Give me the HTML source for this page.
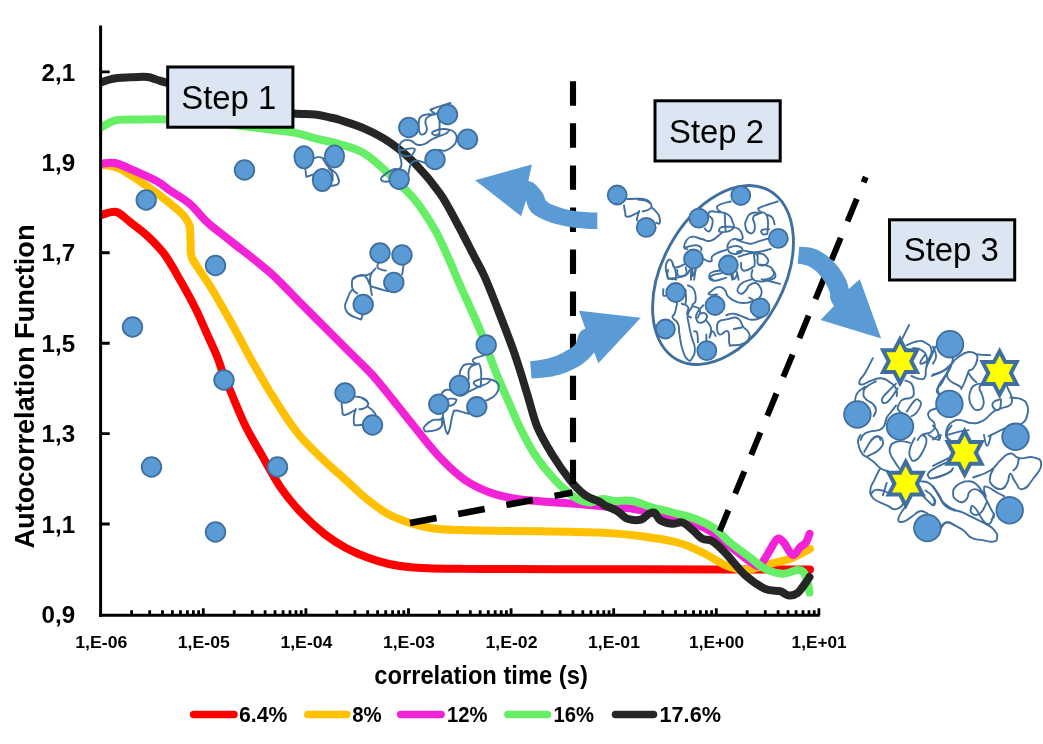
<!DOCTYPE html>
<html><head><meta charset="utf-8"><title>Autocorrelation Function</title>
<style>
html,body{margin:0;padding:0;background:#fff;overflow:hidden}
svg{display:block}
text{font-family:"Liberation Sans",sans-serif}
.b{font-weight:bold}
</style></head><body>
<svg width="1043" height="744" viewBox="0 0 1043 744">
<rect width="1043" height="744" fill="#fff"/>
<g stroke="#000" stroke-width="2.9" fill="none">
<path d="M101 71.9H109.7M101 162.3H109.7M101 252.7H109.7M101 343.2H109.7M101 433.6H109.7M101 524.0H109.7"/>
<path stroke-width="2.8" d="M131.6 615V610.2M149.7 615V610.2M162.5 615V610.2M172.4 615V610.2M180.5 615V610.2M187.4 615V610.2M193.4 615V610.2M198.6 615V610.2M203.3 615V608.2M234.2 615V610.2M252.3 615V610.2M265.1 615V610.2M275.0 615V610.2M283.1 615V610.2M290.0 615V610.2M296.0 615V610.2M301.2 615V610.2M305.9 615V608.2M336.8 615V610.2M354.9 615V610.2M367.7 615V610.2M377.6 615V610.2M385.7 615V610.2M392.6 615V610.2M398.6 615V610.2M403.8 615V610.2M408.5 615V608.2M439.4 615V610.2M457.5 615V610.2M470.3 615V610.2M480.2 615V610.2M488.3 615V610.2M495.2 615V610.2M501.2 615V610.2M506.4 615V610.2M511.1 615V608.2M542.0 615V610.2M560.1 615V610.2M572.9 615V610.2M582.8 615V610.2M590.9 615V610.2M597.8 615V610.2M603.8 615V610.2M609.0 615V610.2M613.7 615V608.2M644.6 615V610.2M662.7 615V610.2M675.5 615V610.2M685.4 615V610.2M693.5 615V610.2M700.4 615V610.2M706.4 615V610.2M711.6 615V610.2M716.3 615V608.2M747.2 615V610.2M765.3 615V610.2M778.1 615V610.2M788.0 615V610.2M796.1 615V610.2M803.0 615V610.2M809.0 615V610.2M814.2 615V610.2M818.9 615V608.2"/>
</g>
<clipPath id="pc"><rect x="101" y="20" width="760" height="600"/></clipPath>
<g fill="none" stroke-width="8" stroke-linecap="round" stroke-linejoin="round" clip-path="url(#pc)">
<path stroke="#ff0000" d="M101.0 215.0C103.5 214.5 111.4 210.8 116.2 212.0C121.1 213.2 124.8 218.0 130.0 222.0C135.2 226.0 141.7 230.5 147.5 236.0C153.3 241.5 159.6 247.7 165.0 255.0C170.4 262.3 175.0 271.2 180.0 280.0C185.0 288.8 190.4 298.3 195.0 307.5C199.6 316.7 203.8 326.7 207.5 335.0C211.2 343.3 214.8 350.7 217.5 357.5C220.2 364.3 221.7 370.6 223.8 376.0C225.8 381.4 226.5 381.8 230.0 390.0C233.5 398.2 240.0 414.7 245.0 425.0C250.0 435.3 253.9 441.4 260.0 452.0C266.1 462.6 274.3 478.4 281.5 488.8C288.7 499.2 295.8 507.1 303.0 514.6C310.2 522.1 317.3 528.4 324.5 534.0C331.7 539.6 338.8 544.1 346.0 548.0C353.2 551.9 360.3 554.9 367.5 557.6C374.7 560.3 381.8 562.4 389.0 564.0C396.2 565.6 403.3 566.6 410.5 567.3C417.7 568.0 423.8 568.1 432.0 568.4C440.2 568.6 452.0 568.7 460.0 568.8C468.0 568.9 456.7 568.9 480.0 569.0C503.3 569.1 560.0 569.1 600.0 569.2C640.0 569.3 685.0 569.4 720.0 569.4C755.0 569.4 795.0 569.5 810.0 569.5"/>
<path stroke="#ffc000" d="M101.0 165.0C104.2 165.6 111.4 164.6 120.0 168.8C128.6 172.9 143.3 183.5 152.5 190.0C161.7 196.5 169.8 203.2 175.0 207.5C180.2 211.8 181.8 213.4 184.0 216.0C186.2 218.6 187.5 221.0 188.5 223.0C189.5 225.0 189.7 225.2 190.0 228.0C190.3 230.8 190.3 235.7 190.5 240.0C190.7 244.3 190.6 250.7 191.0 254.0C191.4 257.3 191.5 257.2 193.0 260.0C194.5 262.8 196.8 266.0 200.0 271.0C203.2 276.0 207.1 281.0 212.5 290.0C217.9 299.0 226.2 313.8 232.5 325.0C238.8 336.2 245.4 349.2 250.0 357.5C254.6 365.8 256.7 369.2 260.0 375.0C263.3 380.8 265.3 384.5 270.0 392.0C274.7 399.5 282.5 412.1 288.0 420.0C293.5 427.9 296.9 432.6 303.0 439.4C309.1 446.2 317.3 454.1 324.5 460.9C331.7 467.7 338.8 473.8 346.0 480.2C353.2 486.6 360.3 493.9 367.5 499.6C374.7 505.3 381.8 510.7 389.0 514.6C396.2 518.5 403.3 520.9 410.5 523.2C417.7 525.5 423.8 527.1 432.0 528.2C440.2 529.4 450.3 529.7 460.0 530.1C469.7 530.5 476.7 530.6 490.0 530.8C503.3 530.9 521.7 531.0 540.0 531.2C558.3 531.5 583.3 531.7 600.0 532.5C616.7 533.3 627.1 534.3 640.0 536.0C652.9 537.7 667.1 539.8 677.5 542.5C687.9 545.2 694.6 548.8 702.5 552.5C710.4 556.2 717.9 562.1 725.0 565.0C732.1 567.9 737.5 570.2 745.0 570.0C752.5 569.8 762.5 565.6 770.0 563.8C777.5 561.9 783.3 561.2 790.0 558.8C796.7 556.2 806.7 550.4 810.0 548.8"/>
<path stroke="#f223d6" d="M101.0 163.8C103.3 163.6 109.3 161.8 115.0 163.0C120.7 164.2 127.9 167.9 135.0 171.0C142.1 174.1 151.7 178.2 157.5 181.5C163.3 184.8 164.6 186.8 170.0 190.5C175.4 194.2 183.8 198.7 190.0 204.0C196.2 209.3 200.4 216.1 207.5 222.5C214.6 228.9 222.1 234.2 232.5 242.5C242.9 250.8 258.8 262.5 270.0 272.5C281.2 282.5 290.0 292.5 300.0 302.5C310.0 312.5 321.7 324.2 330.0 332.5C338.3 340.8 342.9 345.4 350.0 352.5C357.1 359.6 365.0 366.7 372.5 375.0C380.0 383.3 387.9 393.8 395.0 402.5C402.1 411.2 407.5 418.3 415.0 427.5C422.5 436.7 431.7 448.8 440.0 457.5C448.3 466.2 456.7 474.2 465.0 480.0C473.3 485.8 481.7 489.4 490.0 492.5C498.3 495.6 506.7 497.3 515.0 498.8C523.3 500.2 531.7 500.5 540.0 501.2C548.3 502.0 555.0 502.2 565.0 503.0C575.0 503.8 591.7 505.2 600.0 506.0C608.3 506.8 608.3 506.8 615.0 507.5C621.7 508.2 625.8 506.9 640.0 510.0C654.2 513.1 685.8 520.6 700.0 526.0C714.2 531.4 717.5 537.2 725.0 542.5C732.5 547.8 739.5 554.1 745.0 558.0C750.5 561.9 754.8 565.7 758.0 566.0C761.2 566.3 762.0 562.7 764.0 560.0C766.0 557.3 767.8 553.5 770.0 550.0C772.2 546.5 775.2 540.0 777.5 538.8C779.8 537.5 781.2 539.8 783.8 542.5C786.2 545.2 789.8 554.2 792.5 555.0C795.2 555.8 797.8 549.6 800.0 547.5C802.2 545.4 804.4 544.8 806.0 542.5C807.6 540.2 808.9 535.2 809.5 533.8"/>
<path stroke="#66ee66" d="M101.0 127.5C102.2 126.8 105.2 124.8 108.0 123.5C110.8 122.2 112.2 120.7 117.5 120.0C122.8 119.3 131.9 119.6 140.0 119.5C148.1 119.4 156.0 119.2 166.0 119.5C176.0 119.8 187.7 120.2 200.0 121.3C212.3 122.3 228.3 124.4 240.0 125.8C251.7 127.2 261.0 128.5 270.0 129.6C279.0 130.7 285.7 130.9 294.0 132.6C302.3 134.2 312.3 137.6 320.0 139.5C327.7 141.4 332.5 141.8 340.0 144.2C347.5 146.6 356.7 148.6 365.0 153.8C373.3 158.9 381.7 167.3 390.0 175.0C398.3 182.7 407.5 190.8 415.0 200.0C422.5 209.2 429.6 220.7 435.0 230.0C440.4 239.3 443.3 246.8 447.5 256.0C451.7 265.2 454.6 272.7 460.0 285.0C465.4 297.3 474.2 315.8 480.0 330.0C485.8 344.2 490.0 357.5 495.0 370.0C500.0 382.5 505.8 395.4 510.0 405.0C514.2 414.6 515.8 419.2 520.0 427.5C524.2 435.8 529.2 446.2 535.0 455.0C540.8 463.8 548.3 472.9 555.0 480.0C561.7 487.1 569.2 493.8 575.0 497.5C580.8 501.2 585.4 502.2 590.0 502.5C594.6 502.8 598.3 499.2 602.5 499.0C606.7 498.8 610.0 500.7 615.0 501.0C620.0 501.3 626.2 499.9 632.5 501.0C638.8 502.1 645.8 505.6 652.5 507.5C659.2 509.4 665.4 510.6 672.5 512.5C679.6 514.4 687.9 516.0 695.0 518.8C702.1 521.5 709.2 524.8 715.0 528.8C720.8 532.7 724.2 537.7 730.0 542.5C735.8 547.3 744.2 553.1 750.0 557.5C755.8 561.9 759.6 566.0 765.0 568.8C770.4 571.5 777.1 573.5 782.5 573.8C787.9 574.0 794.0 570.2 797.5 570.0C801.0 569.8 802.1 570.4 803.8 572.5C805.4 574.6 806.5 579.2 807.5 582.5C808.5 585.8 809.2 590.8 809.5 592.5"/>
<path stroke="#262626" d="M101.0 82.5C102.2 82.1 105.2 80.8 108.0 80.0C110.8 79.2 113.8 78.5 117.5 78.0C121.2 77.5 125.0 77.5 130.0 77.3C135.0 77.1 143.2 76.6 147.5 77.0C151.8 77.4 152.9 78.6 156.0 79.5C159.1 80.4 160.3 81.1 166.0 82.5C171.7 83.9 181.0 85.8 190.0 88.0C199.0 90.2 210.0 93.3 220.0 96.0C230.0 98.7 240.8 101.7 250.0 104.0C259.2 106.3 267.7 108.4 275.0 110.0C282.3 111.6 287.3 112.8 294.0 113.5C300.7 114.2 309.0 113.8 315.0 114.5C321.0 115.2 325.8 116.6 330.0 117.5C334.2 118.4 334.2 118.1 340.0 120.0C345.8 121.9 356.7 125.0 365.0 128.8C373.3 132.5 381.7 136.7 390.0 142.5C398.3 148.3 406.7 155.0 415.0 163.5C423.3 172.0 432.9 183.4 440.0 193.5C447.1 203.6 451.9 213.7 457.5 224.0C463.1 234.3 469.2 246.6 473.8 255.5C478.3 264.4 480.6 267.6 485.0 277.5C489.4 287.4 495.0 302.1 500.0 315.0C505.0 327.9 510.4 341.7 515.0 355.0C519.6 368.3 523.8 382.9 527.5 395.0C531.2 407.1 533.3 417.5 537.5 427.5C541.7 437.5 547.1 446.2 552.5 455.0C557.9 463.8 564.6 473.3 570.0 480.0C575.4 486.7 580.0 491.3 585.0 495.0C590.0 498.7 596.7 500.2 600.0 502.0C603.3 503.8 602.1 504.0 605.0 505.5C607.9 507.0 613.8 509.0 617.5 511.2C621.2 513.5 623.5 517.4 627.5 518.8C631.5 520.1 637.7 520.3 641.2 519.5C644.8 518.7 646.5 514.8 648.8 513.8C651.0 512.7 653.1 512.0 655.0 513.0C656.9 514.0 657.1 518.2 660.0 520.0C662.9 521.8 668.8 523.3 672.5 523.8C676.2 524.2 679.2 521.5 682.5 522.5C685.8 523.5 689.2 527.3 692.5 530.0C695.8 532.7 699.2 536.9 702.5 538.8C705.8 540.6 708.8 539.0 712.5 541.2C716.2 543.5 719.6 546.9 725.0 552.5C730.4 558.1 738.3 569.0 745.0 575.0C751.7 581.0 759.2 586.0 765.0 588.8C770.8 591.5 776.0 590.1 780.0 591.2C784.0 592.4 785.8 595.2 788.8 595.5C791.7 595.8 794.8 595.0 797.5 593.0C800.2 591.0 803.0 586.4 805.0 583.8C807.0 581.1 808.8 578.1 809.5 577.0"/>
</g>
<g stroke="#000" stroke-width="3" fill="none">
<path d="M100.6 25.5V616.8"/><path d="M99.1 615.3H819.8"/>
</g>
<g stroke="#000" fill="none">
<path d="M573 81.3V484" stroke-width="6.1" stroke-dasharray="24.4 17.66"/>
<path d="M410 523L572.5 492.5" stroke-width="6.5" stroke-dasharray="27 22"/>
<path d="M865.8 177L719.8 531" stroke-width="6" stroke-dasharray="24.2 17.9" stroke-dashoffset="18.4"/>
</g>
<g fill="none" stroke="#3f6f9f" stroke-width="1.9" stroke-linecap="round" stroke-linejoin="round">
<path d="M450.5 103.0C446.0 104.5 438.7 106.4 433.5 108.5C428.4 110.5 430.9 109.1 431.3 110.7C431.7 112.3 436.2 113.4 435.0 114.4C433.8 115.4 430.8 113.6 426.9 114.4C423.0 115.2 422.4 114.8 420.2 117.3C418.1 119.9 419.0 120.0 418.8 124.0C418.6 127.9 418.3 129.4 419.5 132.1C420.7 134.9 421.2 134.9 423.2 134.3C425.2 133.7 426.3 133.2 426.9 129.9C427.5 126.5 425.0 125.3 425.4 121.8C425.8 118.2 425.8 118.6 428.4 116.6C430.9 114.6 432.3 114.8 435.0 114.4C437.8 114.0 437.5 110.6 438.7 115.1C439.9 119.7 439.7 126.3 439.5 131.4C439.3 136.5 439.4 133.3 438.0 134.3C436.6 135.3 435.5 135.9 434.3 135.1C433.1 134.3 430.2 133.0 433.5 131.4C436.9 129.8 443.3 128.8 446.8 129.2C450.4 129.6 449.6 130.7 446.8 132.9C444.1 135.0 440.8 135.3 436.5 137.3C432.2 139.3 433.7 138.5 430.6 140.2C427.4 142.0 428.2 142.8 424.7 143.9C421.1 145.1 420.8 145.5 417.3 144.7C413.7 143.9 414.7 142.2 411.4 141.0C408.0 139.8 407.9 139.3 404.7 140.2C401.6 141.2 401.1 141.9 399.6 144.7C398.0 147.4 398.2 147.8 398.8 150.6C399.4 153.3 398.8 153.6 401.8 155.0C404.7 156.4 406.5 156.7 409.9 155.8C413.2 154.8 413.5 153.3 414.3 151.3C415.1 149.4 415.8 148.8 412.9 148.4C409.9 148.0 406.8 148.9 403.2 149.8C399.7 150.8 400.1 147.5 399.6 152.1C399.0 156.6 403.0 162.1 401.0 166.8C399.1 171.6 396.9 167.4 392.2 169.8C387.4 172.2 386.3 173.1 383.3 175.7C380.3 178.3 380.7 177.8 381.1 179.4C381.5 181.0 382.2 181.2 384.8 181.6C387.3 182.0 389.1 181.1 390.7 180.9M407.7 178.7C408.3 175.5 408.5 171.4 409.9 166.8C411.3 162.3 410.5 163.2 412.9 161.7C415.2 160.1 415.0 160.3 418.8 160.9C422.5 161.5 424.7 163.1 426.9 163.9M446.8 129.2C448.8 129.9 451.7 129.2 454.2 132.1C456.8 135.1 457.0 136.3 456.4 140.2C455.9 144.2 455.0 144.1 452.0 146.9C449.1 149.7 448.7 149.8 445.4 150.6C442.0 151.4 441.0 150.0 439.5 149.8"/>
<path d="M377.9 263.2C377.9 264.4 376.7 265.9 377.9 267.7C379.0 269.5 380.1 269.1 382.3 269.9C384.5 270.7 385.0 270.4 386.0 270.6M375.6 268.4C373.9 270.0 373.1 272.4 369.0 274.3C364.9 276.3 364.1 275.0 360.1 275.8C356.2 276.6 356.4 275.7 354.2 277.3C352.0 278.9 352.4 278.6 352.0 281.7C351.6 284.9 351.4 286.0 352.7 289.1C354.1 292.3 356.0 292.4 357.2 293.5M352.7 289.1C351.6 291.1 350.1 290.8 348.3 296.5C346.5 302.2 343.3 304.6 346.1 310.5C348.8 316.4 354.5 316.7 358.6 318.7C362.8 320.6 360.6 318.9 361.6 317.9C362.6 316.9 362.1 315.8 362.3 315.0M374.9 269.2C373.7 270.9 371.6 271.3 370.5 275.8C369.3 280.3 370.1 281.0 370.5 286.2C370.9 291.3 371.5 292.7 371.9 295.0M370.5 286.2C374.4 287.3 380.1 289.2 385.2 290.6C390.4 292.0 388.5 291.1 389.7 291.3M403.7 264.7C403.3 267.3 402.6 271.8 402.2 274.3M353.5 278.8C355.2 277.8 356.8 275.5 360.1 275.1C363.5 274.7 363.5 274.7 366.0 277.3C368.6 279.8 368.7 282.7 369.7 284.7"/>
<path d="M483.9 355.3C481.5 356.1 478.0 356.7 475.0 358.2C472.1 359.8 472.6 359.6 472.8 361.2C473.0 362.8 477.3 363.4 475.8 364.2C474.2 364.9 470.6 363.2 466.9 364.2C463.2 365.1 463.7 364.9 461.7 367.9C459.8 370.8 459.7 371.5 459.5 375.2C459.3 379.0 459.6 379.5 461.0 381.9C462.4 384.3 462.7 384.7 464.7 384.1C466.6 383.5 467.2 383.6 468.4 379.7C469.6 375.7 467.3 373.3 469.1 369.3C470.9 365.4 472.1 365.7 475.0 364.9C478.0 364.1 478.6 361.3 480.2 366.4C481.8 371.5 481.3 378.8 480.9 384.1C480.5 389.4 480.1 385.9 478.7 386.3C477.3 386.7 476.7 387.0 475.8 385.6C474.8 384.2 471.9 382.9 475.0 381.2C478.2 379.4 484.0 378.5 487.6 378.9C491.1 379.3 490.9 380.5 488.3 382.6C485.8 384.8 483.1 384.7 478.0 387.1C472.9 389.4 473.1 389.3 469.1 391.5C465.2 393.7 466.4 394.2 463.2 395.2C460.0 396.2 460.4 396.4 457.3 395.2C454.1 394.0 454.5 392.1 451.4 390.8C448.2 389.4 448.2 389.0 445.5 390.0C442.7 391.0 442.4 391.7 441.0 394.5C439.7 397.2 439.7 397.6 440.3 400.4C440.9 403.1 440.3 403.4 443.2 404.8C446.2 406.2 448.0 406.3 451.4 405.5C454.7 404.7 455.0 403.6 455.8 401.8C456.6 400.1 457.3 399.5 454.3 398.9C451.4 398.3 448.3 398.8 444.7 399.6C441.2 400.4 441.6 397.1 441.0 401.8C440.4 406.6 444.9 412.4 442.5 417.4C440.1 422.3 436.9 418.0 432.2 420.3C427.4 422.7 426.9 423.9 424.8 426.2C422.6 428.6 423.3 427.8 424.0 429.2C424.8 430.6 423.4 431.8 427.7 431.4C432.1 431.0 436.6 430.9 440.3 427.7C444.0 424.6 441.4 421.7 441.8 419.6M443.2 417.4C444.0 421.1 444.6 427.9 446.2 431.4C447.8 434.9 447.4 435.4 449.2 430.7C450.9 425.9 451.1 419.0 452.9 413.7C454.6 408.3 453.8 411.3 455.8 410.7C457.8 410.1 456.9 410.7 460.2 411.4C463.6 412.2 466.2 413.1 468.4 413.7M487.6 378.9C489.6 379.5 492.0 379.0 495.0 381.2C497.9 383.3 498.5 383.5 498.7 387.1C498.9 390.6 498.1 391.3 495.7 394.5C493.3 397.6 492.4 397.3 489.8 398.9C487.2 400.5 487.1 400.0 486.1 400.4"/>
<path d="M353.5 396.7C355.1 396.8 356.3 396.3 359.4 397.0C362.6 397.8 363.0 397.8 365.3 399.4C367.6 401.0 367.6 401.3 368.0 403.2C368.4 405.0 368.1 405.0 366.9 406.4C365.8 407.8 365.7 407.8 363.7 408.5C361.7 409.3 360.6 409.1 359.4 409.3M361.6 397.8C362.8 398.7 364.5 399.4 366.4 401.0C368.3 402.6 368.0 403.0 368.5 403.7M367.5 406.4C368.8 407.4 370.2 408.0 372.3 410.2C374.5 412.3 374.5 412.5 375.5 414.5C376.5 416.5 375.9 416.8 376.1 417.7M341.7 403.2C341.8 404.7 341.5 405.9 342.2 409.1C342.9 412.2 341.2 414.6 344.4 415.0C347.5 415.4 351.0 412.1 354.0 410.7C357.0 409.3 355.6 408.3 355.6 409.6C355.6 410.9 354.5 411.8 354.0 415.5C353.6 419.3 353.5 421.0 354.0 423.6C354.6 426.2 354.0 424.9 356.2 425.2C358.3 425.5 360.5 424.8 362.1 424.7"/>
<path d="M313.9 158.2C315.2 157.9 316.0 157.0 318.7 157.1C321.4 157.2 322.7 158.1 324.1 158.5M305.3 168.7C305.6 170.6 305.8 173.6 306.3 175.7C306.9 177.8 305.7 176.7 307.4 176.5C309.1 176.2 311.4 175.1 312.8 174.6M323.0 159.0C324.2 160.8 324.4 162.2 327.3 165.5C330.2 168.8 331.2 168.8 333.8 171.4C336.3 174.0 335.7 172.0 337.0 175.2C338.3 178.3 340.0 180.4 338.6 183.2C337.2 186.1 333.5 185.2 331.6 185.9M328.9 168.7C329.8 169.9 331.1 169.9 332.2 173.0C333.2 176.2 332.5 178.5 332.7 180.5"/>
<path d="M627.3 199.0C629.3 199.0 630.5 198.8 634.8 198.8C639.1 198.8 639.7 198.4 643.4 199.0C647.1 199.7 646.6 199.5 648.8 201.2C650.9 202.9 651.3 203.3 651.5 205.5C651.6 207.6 651.6 207.7 649.3 209.2C647.0 210.8 644.6 210.8 642.8 211.4M638.0 199.6C640.0 199.9 642.1 199.5 645.5 200.6C649.0 201.8 649.5 203.0 650.9 203.9M652.0 207.6C653.3 208.9 654.8 209.9 656.8 212.5C658.8 215.1 658.8 214.4 659.5 217.3C660.2 220.2 660.4 221.8 659.5 223.2C658.7 224.7 657.2 222.8 656.3 222.7M624.0 205.5C624.3 207.2 624.2 208.9 625.1 211.9C626.0 214.9 624.1 216.5 627.3 216.8C630.4 217.1 633.8 214.4 636.9 213.0C640.1 211.6 638.9 210.5 639.1 211.4C639.2 212.3 638.0 213.8 637.5 216.2C636.9 218.7 637.1 219.4 636.9 220.5"/>
<path d="M730.9 201.5C728.0 202.3 723.8 202.7 720.2 204.5C716.5 206.4 717.1 206.3 717.1 208.4C717.1 210.4 721.8 211.4 720.2 212.2C718.5 213.0 714.0 210.6 711.0 211.4C707.9 212.3 708.2 213.0 708.7 215.3C709.1 217.5 711.9 216.2 712.5 219.9C713.1 223.6 712.2 226.0 711.0 229.1C709.7 232.1 709.5 231.6 707.9 231.4C706.2 231.2 705.6 229.1 704.8 228.3M720.2 212.2C722.2 212.8 724.6 212.1 727.8 214.5C731.1 217.0 731.2 217.5 732.4 221.4C733.7 225.3 735.3 226.2 732.4 229.1C729.6 231.9 725.2 232.1 721.7 232.1C718.2 232.1 719.0 230.5 719.4 229.1C719.8 227.6 720.2 227.4 723.2 226.8C726.3 226.2 728.8 226.8 730.9 226.8M724.8 214.5C725.0 218.8 725.3 226.3 725.5 230.6M730.9 226.8C732.9 227.4 735.5 226.8 738.6 229.1C741.6 231.3 741.8 232.4 742.4 235.2C743.0 238.1 743.1 238.8 740.9 239.8C738.6 240.8 737.2 238.2 734.0 239.0C730.7 239.9 730.2 240.2 728.6 242.9C727.0 245.5 726.8 246.2 727.8 249.0C728.8 251.9 729.2 252.6 732.4 253.6C735.7 254.6 737.4 254.1 740.1 252.9C742.8 251.6 743.2 250.9 742.4 249.0C741.6 247.2 740.5 246.4 737.0 246.0C733.5 245.5 731.4 247.1 729.4 247.5M721.7 232.9C718.8 235.0 716.3 238.9 711.0 240.6C705.6 242.2 706.7 240.1 701.7 239.0C696.8 238.0 696.6 236.3 692.5 236.7C688.5 237.2 688.7 237.7 686.4 240.6C684.2 243.4 683.9 245.2 684.1 247.5C684.3 249.7 686.4 248.6 687.2 249.0M685.6 247.5C688.3 246.9 691.5 245.2 695.6 245.2C699.7 245.2 699.6 246.1 701.0 247.5C702.4 248.9 701.0 249.7 701.0 250.6M777.7 201.5C773.4 202.9 766.7 204.6 761.6 206.8C756.5 209.1 758.5 208.3 758.5 209.9C758.5 211.5 763.2 212.2 761.6 213.0C759.9 213.8 756.2 211.5 752.4 213.0C748.5 214.4 748.8 214.7 747.0 218.3C745.2 222.0 744.8 222.9 745.5 226.8C746.1 230.7 747.0 231.7 749.3 232.9C751.5 234.1 752.5 233.6 753.9 231.4C755.3 229.1 754.9 228.0 754.7 224.5C754.5 221.0 752.5 221.0 753.1 218.3C753.7 215.7 753.5 215.5 757.0 214.5C760.4 213.5 763.3 210.2 766.2 214.5C769.0 218.8 768.1 225.3 767.7 230.6C767.3 235.9 766.3 233.8 764.6 234.4C763.0 235.1 762.2 234.1 761.6 232.9C761.0 231.7 760.3 230.9 762.3 229.8C764.4 228.8 767.4 229.3 769.2 229.1M766.2 214.5C767.8 215.3 770.1 214.9 772.3 217.6C774.6 220.2 774.0 222.6 774.6 224.5M769.2 238.3C766.4 239.1 763.4 239.9 758.5 241.3C753.6 242.8 754.9 243.4 750.8 243.7C746.7 243.9 746.8 243.1 743.2 242.1C739.5 241.1 738.7 240.4 737.0 239.8M770.8 249.0C766.7 249.8 762.8 251.7 755.4 252.1C748.1 252.5 748.1 250.6 743.2 250.6C738.3 250.6 738.7 251.7 737.0 252.1M703.3 259.0C705.3 259.6 708.3 262.3 711.0 261.3C713.6 260.3 709.2 258.2 713.3 255.2C717.3 252.1 722.8 251.2 726.3 249.8M738.6 256.7C743.1 255.9 750.1 251.6 755.4 253.6C760.7 255.7 755.2 261.9 758.5 264.4C761.8 266.8 766.1 265.3 767.7 262.8C769.3 260.4 767.3 257.6 764.6 255.2C762.0 252.7 759.6 254.0 757.7 253.6M740.9 262.8C741.5 264.9 740.1 269.3 743.2 270.5C746.2 271.7 749.3 269.3 752.4 267.4C755.4 265.6 754.3 266.9 754.7 263.6C755.1 260.3 754.1 257.4 753.9 255.2M758.5 264.4C761.0 264.8 763.8 264.3 767.7 265.9C771.6 267.5 771.8 267.6 773.1 270.5C774.3 273.4 774.6 274.2 772.3 276.6C770.1 279.1 766.7 278.9 764.6 279.7M684.1 264.4C681.7 265.2 678.2 268.2 674.9 267.4C671.6 266.6 673.7 263.1 671.8 261.3C670.0 259.4 669.6 258.9 668.0 260.5C666.4 262.2 665.7 262.7 665.7 267.4C665.7 272.1 667.4 275.3 668.0 278.2M671.8 261.3C672.9 264.2 674.7 267.1 675.7 272.0C676.7 276.9 675.7 277.6 675.7 279.7M685.6 267.4C685.8 269.1 687.4 271.1 686.4 273.6C685.4 276.0 686.7 275.2 681.8 276.6C676.9 278.1 671.7 278.3 668.0 278.9M691.0 269.7C691.0 272.4 691.0 277.0 691.0 279.7M695.6 269.7C695.2 272.4 694.5 277.0 694.1 279.7M720.2 270.5C718.1 270.9 715.3 270.6 712.5 272.0C709.6 273.5 709.4 273.8 709.4 275.9C709.4 277.9 711.7 278.7 712.5 279.7M730.9 273.6C731.3 275.2 732.0 278.1 732.4 279.7M737.0 272.0C737.4 274.1 738.1 277.6 738.6 279.7"/>
<path d="M668.0 270.0C668.0 272.0 666.0 275.2 668.0 277.7C670.1 280.1 673.6 278.8 675.7 279.2M677.2 270.0C677.6 271.6 676.3 274.9 678.7 276.1C681.2 277.4 683.5 276.2 686.4 274.6C689.3 273.0 688.7 271.2 689.5 270.0M692.5 270.0C692.1 272.0 691.4 275.6 691.0 277.7M695.6 270.0C694.8 271.6 693.4 274.5 692.5 276.1M721.7 273.1C719.2 273.7 715.8 273.9 712.5 275.4C709.2 276.8 708.6 277.0 709.4 278.4C710.2 279.9 711.1 280.9 715.6 280.7C720.1 280.5 723.4 278.5 726.3 277.7M732.4 273.1C732.8 274.7 732.7 278.8 734.0 279.2C735.2 279.6 736.2 275.8 737.0 274.6M752.4 270.0C752.4 272.2 749.9 275.4 752.4 278.4C754.8 281.5 756.2 281.3 761.6 281.5C766.9 281.7 768.6 281.0 772.3 279.2C776.0 277.4 775.4 277.1 775.4 274.6C775.4 272.1 773.1 271.2 772.3 270.0M761.6 279.2C766.5 280.4 775.1 282.6 780.0 283.8M752.4 279.2C749.9 280.0 746.8 280.2 743.2 282.3C739.5 284.3 740.0 284.4 738.6 286.9C737.1 289.3 737.0 289.6 737.8 291.5C738.6 293.3 739.4 294.2 741.6 293.8C743.9 293.4 744.2 292.2 746.2 289.9C748.3 287.7 746.8 287.2 749.3 285.3C751.7 283.5 752.6 282.6 755.4 283.0C758.3 283.4 758.4 284.2 760.0 286.9C761.7 289.5 762.0 289.7 761.6 293.0C761.2 296.3 759.3 297.5 758.5 299.1M749.3 297.6C750.1 298.4 754.0 299.2 752.4 300.7C750.7 302.1 748.1 303.0 743.2 303.0C738.3 303.0 738.0 302.5 734.0 300.7C729.9 298.8 730.3 298.9 727.8 296.1C725.4 293.2 727.2 292.4 724.8 289.9C722.3 287.5 722.3 286.5 718.6 286.9C714.9 287.3 713.4 289.4 711.0 291.5C708.5 293.5 707.8 293.7 709.4 294.5C711.1 295.4 715.0 294.5 717.1 294.5M663.4 289.2C663.4 290.8 662.6 293.7 663.4 295.3C664.2 296.9 665.7 295.3 666.5 295.3M685.6 289.9C685.6 293.4 686.7 299.3 685.6 303.0C684.6 306.7 681.2 302.7 681.8 303.7C682.4 304.8 686.5 303.9 687.9 306.8C689.4 309.7 686.4 311.6 687.2 314.5C688.0 317.3 690.0 316.7 691.0 317.5M687.9 285.3C689.6 286.6 692.0 285.8 694.1 289.9C696.1 294.0 696.0 296.6 695.6 300.7C695.2 304.8 691.7 303.2 692.5 305.3C693.4 307.3 696.6 306.3 698.7 308.3C700.7 310.4 699.8 311.7 700.2 312.9M677.2 303.0C676.6 305.6 676.1 309.1 674.9 312.9C673.7 316.8 671.8 314.7 672.6 317.5C673.4 320.4 676.1 319.2 678.0 323.7C679.8 328.2 678.3 327.5 679.5 334.4C680.7 341.4 680.3 343.0 682.6 349.8C684.8 356.5 685.3 357.7 687.9 359.7C690.6 361.8 690.7 360.5 692.5 357.4C694.4 354.4 695.1 353.5 694.8 348.2C694.6 342.9 693.4 344.0 691.8 337.5C690.1 330.9 689.7 329.8 688.7 323.7C687.7 317.5 686.9 319.2 687.9 314.5C689.0 309.8 691.3 308.3 692.5 306.0M694.1 331.3C694.9 331.8 696.1 330.0 697.1 332.9C698.2 335.7 697.7 339.6 697.9 342.1M703.3 305.3C701.6 307.3 699.0 309.3 697.1 312.9C695.3 316.6 695.6 316.4 696.4 319.1C697.2 321.7 697.6 322.9 700.2 322.9C702.9 322.9 704.9 321.5 706.3 319.1C707.8 316.6 707.2 315.1 705.6 313.7C703.9 312.3 702.3 312.7 700.2 313.7C698.2 314.7 698.5 316.5 697.9 317.5M706.3 320.6C707.6 322.7 710.1 323.8 711.0 328.3C711.8 332.8 709.0 336.7 709.4 337.5C709.8 338.3 710.8 331.8 712.5 331.3C714.1 330.9 714.7 334.7 715.6 336.0M726.3 315.2C728.3 314.8 729.0 313.1 734.0 313.7C738.9 314.3 739.8 315.9 744.7 317.5C749.6 319.2 747.9 319.8 752.4 319.8C756.9 319.8 759.1 318.2 761.6 317.5M720.2 320.6C719.3 321.8 717.3 321.5 717.1 325.2C716.9 328.9 716.5 332.8 719.4 334.4C722.2 336.1 725.2 328.9 727.8 331.3C730.5 333.8 728.1 339.9 729.4 343.6C730.6 347.3 728.7 345.2 732.4 345.2C736.1 345.2 738.7 345.7 743.2 343.6C747.7 341.6 748.1 340.8 749.3 337.5C750.5 334.2 749.4 334.2 747.8 331.3C746.1 328.5 745.2 329.6 743.2 326.7C741.1 323.9 742.1 323.1 740.1 320.6C738.0 318.2 738.8 318.0 735.5 317.5C732.2 317.1 731.9 318.3 727.8 319.1C723.7 319.9 722.2 320.2 720.2 320.6M734.0 329.0C736.0 328.6 739.6 327.9 741.6 327.5M706.3 334.4C706.3 336.1 706.3 338.9 706.3 340.6"/>
<path d="M909.1 325.0C907.3 328.7 904.0 335.2 902.2 338.9M872.8 358.2C870.8 362.1 868.6 366.9 865.1 372.9C861.6 378.9 860.5 377.6 859.7 380.6C858.9 383.7 858.9 384.5 862.0 384.5C865.1 384.5 866.1 382.3 871.3 380.6C876.4 379.0 876.4 377.9 881.3 378.3C886.3 378.7 885.9 379.5 889.8 382.2C893.7 384.9 894.1 384.7 896.0 388.4C897.9 392.1 896.6 394.0 896.8 396.1M896.0 383.7C893.5 386.2 890.4 388.9 886.7 393.0C883.0 397.1 882.5 396.5 882.1 399.2C881.7 401.9 882.7 403.5 885.2 403.1C887.7 402.6 888.1 401.6 891.4 397.6C894.7 393.7 895.9 390.8 897.6 388.4M865.1 386.8C863.0 388.5 860.0 389.3 857.4 393.0C854.7 396.7 855.7 398.7 855.0 400.7M875.9 381.4C873.4 382.9 869.9 383.7 866.6 386.8C863.3 389.9 863.8 389.7 863.5 393.0C863.3 396.3 863.4 396.3 865.9 399.2C868.3 402.1 870.1 400.9 872.8 403.8C875.5 406.7 875.7 406.7 875.9 410.0C876.1 413.3 874.2 414.5 873.6 416.2M906.8 345.1C909.7 344.1 912.7 341.8 917.6 341.2C922.6 340.6 921.7 340.5 925.4 342.8C929.1 345.0 930.7 345.4 931.6 349.7C932.4 354.1 930.9 355.3 928.5 359.0C926.0 362.7 924.3 363.0 922.3 363.6C920.2 364.3 919.9 363.8 920.7 361.3C921.6 358.8 924.1 356.2 925.4 354.4M913.0 348.2C915.1 348.6 917.0 347.3 920.7 349.7C924.4 352.2 925.5 352.5 926.9 357.5C928.4 362.4 926.3 365.4 926.1 368.3M935.4 346.6C934.4 349.1 934.0 350.1 931.6 355.9C929.1 361.7 927.8 362.9 926.1 368.3C924.5 373.6 926.8 373.1 925.4 376.0C923.9 378.9 924.4 379.1 920.7 379.1C917.0 379.1 913.9 376.8 911.5 376.0M931.6 376.0C935.3 374.4 939.7 373.5 945.5 369.8C951.2 366.1 951.1 364.2 953.2 362.1M953.2 357.5C952.4 360.3 952.6 362.9 950.1 368.3C947.6 373.6 947.2 372.2 943.9 377.6C940.6 382.9 938.6 383.4 937.7 388.4C936.9 393.3 940.0 394.0 940.8 396.1M905.3 380.6C906.9 381.5 909.2 380.8 911.5 383.7C913.7 386.6 913.8 387.8 913.8 391.5C913.8 395.2 914.1 395.6 911.5 397.6C908.8 399.7 907.0 397.5 903.7 399.2C900.4 400.8 900.5 400.9 899.1 403.8C897.7 406.7 896.7 407.1 898.3 410.0C900.0 412.9 903.4 413.4 905.3 414.6M906.8 411.6C908.9 408.7 911.3 403.6 914.6 400.7C917.8 397.8 917.5 399.5 919.2 400.7C920.8 402.0 921.6 402.1 920.7 405.4C919.9 408.7 918.6 410.2 916.1 413.1C913.6 416.0 912.7 415.4 911.5 416.2M896.0 405.4C894.8 407.0 893.8 408.3 891.4 411.6C888.9 414.9 889.2 413.2 886.7 417.7C884.3 422.3 886.6 424.8 882.1 428.6C877.6 432.3 874.7 430.0 869.7 431.6C864.8 433.3 866.0 432.5 863.5 434.7C861.1 437.0 861.3 438.6 860.5 440.0M936.2 408.5C934.3 409.3 931.1 409.1 929.2 411.6C927.4 414.0 927.8 414.4 929.2 417.7C930.7 421.0 934.0 420.2 934.6 423.9C935.3 427.6 934.9 428.8 931.6 431.6C928.3 434.5 926.0 432.5 922.3 434.7C918.6 437.0 918.9 438.6 917.6 440.0M951.6 425.5C950.4 427.5 947.8 429.3 947.0 433.2C946.2 437.1 948.1 438.2 948.6 440.0M871.3 440.0C872.9 439.0 875.0 436.3 877.5 436.3C879.9 436.3 879.7 439.0 880.5 440.0"/>
<path d="M933.0 346.6C933.8 349.1 936.1 351.4 936.1 355.9C936.1 360.4 933.8 361.6 933.0 363.6M933.0 374.5C935.5 373.6 937.7 373.8 942.3 371.4C946.8 368.9 945.9 368.9 950.0 365.2C954.1 361.5 952.8 361.0 957.7 357.5C962.7 354.0 963.2 352.9 968.5 352.0C973.9 351.2 972.1 353.5 977.8 354.4C983.6 355.2 986.9 354.9 990.2 355.1M968.5 352.0C970.4 352.5 973.2 351.3 975.5 353.6C977.8 355.9 977.7 356.6 977.0 360.5C976.4 364.5 975.5 365.4 973.2 368.3C970.9 371.2 969.0 368.9 968.5 371.4C968.1 373.8 969.6 374.7 971.6 377.6C973.7 380.4 975.0 381.0 976.3 382.2M950.0 366.7C949.4 369.6 945.2 372.4 947.7 377.6C950.2 382.7 955.4 383.6 959.3 386.1C963.2 388.5 959.9 390.7 962.4 386.8C964.8 382.9 966.9 375.5 968.5 371.4M948.5 369.8C946.8 373.1 945.4 376.8 942.3 382.2C939.2 387.5 937.7 386.6 936.9 389.9C936.0 393.2 938.6 393.3 939.2 394.6M984.0 383.7C981.9 383.9 979.8 382.9 976.3 384.5C972.8 386.2 972.7 386.0 970.9 389.9C969.0 393.8 968.9 394.7 969.3 399.2C969.7 403.7 970.1 404.0 972.4 406.9C974.7 409.8 974.9 410.4 977.8 410.0C980.7 409.6 982.0 409.1 983.2 405.4C984.5 401.7 983.5 400.6 982.5 396.1C981.4 391.6 979.8 391.3 979.4 388.4C979.0 385.5 980.5 386.1 980.9 385.3M1001.0 399.2C998.9 400.0 995.1 399.8 993.3 402.3C991.4 404.8 992.4 406.6 994.1 408.5C995.7 410.3 997.6 411.3 999.5 409.2C1001.3 407.2 1000.6 403.0 1001.0 400.7M1007.2 386.8C1008.4 390.9 1013.5 396.5 1011.8 402.3C1010.2 408.0 1005.5 406.2 1001.0 408.5C996.5 410.7 997.7 409.1 994.8 410.8C991.9 412.4 993.5 412.0 990.2 414.6C986.9 417.3 987.4 418.6 982.5 420.8C977.5 423.1 977.4 423.4 971.6 423.1C965.9 422.9 965.8 420.5 960.8 420.1C955.9 419.6 956.6 419.7 953.1 421.6C949.6 423.5 949.5 423.1 947.7 427.0C945.8 430.9 945.5 432.8 946.1 436.3C946.8 439.7 949.0 439.0 950.0 440.0M1010.3 397.6C1013.2 398.1 1016.6 397.1 1021.1 399.2C1025.6 401.2 1025.6 401.2 1027.3 405.4C1028.9 409.5 1028.3 410.1 1027.3 414.6C1026.3 419.2 1026.3 419.5 1023.4 422.4C1020.5 425.3 1018.3 424.6 1016.5 425.5M948.5 434.7C951.3 433.9 953.9 432.9 959.3 431.6C964.6 430.4 966.1 430.5 968.5 430.1M988.6 436.3C991.9 434.6 996.1 432.6 1001.0 430.1C1006.0 427.6 1005.5 427.8 1007.2 427.0M933.0 425.5C934.2 427.1 936.0 427.8 937.6 431.6C939.3 435.5 938.8 437.8 939.2 440.0"/>
<path d="M860.5 435.0C859.8 437.1 857.3 437.4 858.1 442.7C859.0 448.1 860.0 452.0 863.5 455.1C867.1 458.2 866.9 456.0 871.3 454.3C875.6 452.7 876.7 452.4 879.8 448.9C882.9 445.4 883.3 444.5 882.9 441.2C882.5 437.9 881.1 437.0 878.2 436.5C875.3 436.1 875.3 436.3 872.0 439.6C868.8 442.9 867.9 445.6 865.9 448.9C863.8 452.2 864.7 451.2 864.3 452.0M863.5 455.1C866.0 456.7 868.3 457.8 872.8 461.3C877.4 464.8 876.4 465.6 880.5 468.2C884.7 470.9 886.2 470.5 888.3 471.3M879.8 469.0C878.3 471.9 876.8 474.5 874.4 479.8C871.9 485.2 871.1 484.6 870.5 489.1C869.9 493.6 870.0 493.5 872.0 496.8C874.1 500.1 873.9 499.0 878.2 501.5C882.6 503.9 883.9 504.0 888.3 506.1C892.6 508.2 891.2 509.0 894.5 509.2C897.8 509.4 898.4 508.3 900.6 506.9C902.9 505.4 902.3 504.6 903.0 503.8M871.3 493.7C872.5 492.7 872.2 490.5 875.9 489.9C879.6 489.3 881.5 490.0 885.2 491.4C888.9 492.9 888.6 494.2 889.8 495.3M891.4 444.3C891.0 446.3 889.0 447.5 889.8 452.0C890.6 456.5 892.0 456.9 894.5 461.3C896.9 465.6 897.9 466.4 899.1 468.2M891.4 444.3C893.4 443.4 894.1 441.6 899.1 441.2C904.0 440.8 907.0 442.3 909.9 442.7M914.6 438.1C913.3 441.0 910.9 443.6 909.9 448.9C908.9 454.3 909.2 455.1 910.7 458.2C912.1 461.3 912.6 461.3 915.3 460.5C918.0 459.7 918.1 459.0 920.7 455.1C923.4 451.2 923.9 450.4 925.4 445.8C926.8 441.3 927.0 441.0 926.1 438.1C925.3 435.2 923.3 435.8 922.3 435.0M928.5 435.0C930.9 436.2 934.4 439.6 937.7 439.6C941.0 439.6 940.0 436.2 940.8 435.0M945.5 462.8C943.0 464.1 940.5 465.0 936.2 467.5C931.9 469.9 931.3 469.6 929.2 472.1C927.2 474.6 927.4 475.1 928.5 476.7C929.5 478.4 929.0 478.7 933.1 478.3C937.2 477.9 939.0 477.2 943.9 475.2C948.9 473.1 949.6 471.8 951.6 470.5M920.7 481.4C922.8 481.8 924.8 480.9 928.5 482.9C932.2 485.0 931.8 485.4 934.6 489.1C937.5 492.8 936.4 492.3 939.3 496.8C942.2 501.4 941.3 502.4 945.5 506.1C949.7 509.8 952.5 509.5 955.0 510.7M922.3 495.3C923.9 496.9 925.6 498.8 928.5 501.5C931.3 504.1 931.5 505.3 933.1 505.3C934.7 505.3 935.1 504.1 934.6 501.5C934.2 498.8 934.0 498.2 931.6 495.3C929.1 492.4 927.0 491.9 925.4 490.6M904.5 507.6C902.9 510.7 898.5 515.5 898.3 519.2C898.1 522.9 900.2 522.2 903.7 521.6C907.2 520.9 907.3 519.6 911.5 516.9C915.6 514.2 915.5 512.7 919.2 511.5C922.9 510.3 922.7 511.2 925.4 512.3C928.0 513.3 928.2 514.5 929.2 515.4M940.8 526.2C942.5 525.2 943.2 522.5 947.0 522.3C950.8 522.1 952.9 524.6 955.0 525.4M882.9 495.3C883.9 492.0 885.7 486.2 886.7 482.9"/>
<path d="M973.2 477.5C977.7 475.6 982.8 475.3 990.2 470.5C997.6 465.8 995.6 464.3 1001.0 459.7C1006.4 455.2 1005.3 454.0 1010.3 453.5C1015.2 453.1 1013.4 457.2 1019.6 458.2C1025.7 459.2 1027.7 455.8 1033.5 457.4C1039.2 459.1 1041.2 458.8 1041.2 464.4C1041.2 469.9 1038.4 471.7 1033.5 478.3C1028.5 484.9 1027.6 488.3 1022.6 489.1C1017.7 489.9 1018.2 485.5 1014.9 481.4C1011.6 477.2 1012.3 473.2 1010.3 473.6C1008.2 474.1 1009.7 478.8 1007.2 482.9C1004.7 487.0 1005.1 488.7 1001.0 489.1C996.9 489.5 994.6 487.8 991.7 484.5C988.8 481.2 989.8 480.9 990.2 476.7C990.6 472.6 992.5 471.1 993.3 469.0M1018.8 458.2C1018.4 460.2 1018.7 462.6 1017.2 465.9C1015.8 469.2 1014.4 469.3 1013.4 470.5M933.0 465.9C937.1 463.9 944.3 460.2 948.5 458.2M936.1 477.5C939.4 476.3 943.9 475.3 948.5 472.9C953.0 470.4 951.9 469.5 953.1 468.2M964.7 481.4C962.4 482.6 959.3 482.7 956.2 486.0C953.1 489.3 953.1 490.0 953.1 493.7C953.1 497.4 953.7 497.6 956.2 499.9C958.7 502.2 959.5 502.6 962.4 502.2C965.3 501.8 965.1 501.0 967.0 498.4C968.9 495.7 967.3 494.7 969.3 492.2C971.4 489.7 971.6 489.1 974.7 489.1C977.8 489.1 978.0 489.7 980.9 492.2C983.8 494.7 983.1 494.2 985.6 498.4C988.0 502.5 987.9 503.1 990.2 507.6C992.5 512.2 993.6 512.3 994.1 515.4C994.5 518.5 992.4 518.2 991.7 519.2M965.5 481.4C967.5 481.6 969.5 480.5 973.2 482.1C976.9 483.8 976.1 483.6 979.4 487.6C982.7 491.5 984.3 496.4 985.6 496.8C986.8 497.2 983.6 491.8 984.0 489.1C984.4 486.4 983.4 485.7 987.1 486.8C990.8 487.8 993.4 490.5 997.9 493.0C1002.4 495.4 1002.4 495.2 1004.1 496.1M987.1 501.5C985.9 503.9 984.9 507.2 982.5 510.7C980.0 514.2 980.5 513.8 977.8 514.6C975.1 515.4 974.3 515.3 972.4 513.8C970.6 512.4 970.2 510.8 970.9 509.2C971.5 507.5 970.4 503.7 974.7 507.6C979.1 511.6 981.9 522.2 987.1 523.9C992.2 525.5 992.2 516.5 994.1 513.8M933.0 486.0C934.6 488.5 936.3 490.7 939.2 495.3C942.1 499.8 940.1 499.3 943.8 503.0C947.5 506.7 948.1 506.7 953.1 509.2C958.0 511.7 957.4 510.2 962.4 512.3C967.3 514.3 965.0 513.6 971.6 516.9C978.2 520.2 980.9 520.9 987.1 524.6C993.3 528.4 992.1 527.3 994.8 530.8C997.5 534.3 997.6 534.9 997.1 537.8C996.7 540.7 997.2 541.0 993.3 541.6C989.4 542.3 988.2 541.1 982.5 540.1C976.7 539.1 976.6 540.3 971.6 537.8C966.7 535.3 968.0 533.9 963.9 530.8C959.8 527.7 960.5 528.5 956.2 526.2C951.9 523.9 951.4 522.3 947.7 522.3C944.0 522.3 944.5 523.5 942.3 526.2C940.0 528.9 940.0 530.7 939.2 532.4M933.0 496.8C933.6 498.1 935.3 499.4 935.3 501.5C935.3 503.5 933.6 503.7 933.0 504.6M984.0 435.0C984.8 437.9 985.2 445.8 987.1 445.8C989.0 445.8 989.9 437.9 991.0 435.0M933.0 439.6C934.6 438.4 937.5 436.2 939.2 435.0"/>
</g>
<g fill="#5b9bd5">
<path d="M475.1 180.2L531.9 164.4L528.3 180.9C532 181.5 535 183.5 536.9 186C540 189.5 542.5 192.5 543.4 194.6C544.5 197 545 199 545.5 200.3C548 203 551 204.5 554.2 205.4C560 207.5 566 209.3 571.4 210.4C580 211.8 589 212.4 597.3 212.6V229.1C586 229 575 228 565.7 226.2C558 224.8 551 223 545.5 220.5C540 218.5 535.5 216 532.6 213.3C530.5 211.5 529 209.5 528.3 207.5C527.3 205 526.5 202.5 526.1 200.3L521.1 216.2Z"/>
<path d="M530.1 361.2C537 360.6 543 359.7 548.8 358.3C554 356.8 559 354.8 563.1 352.5C568 350 572 347.5 574.7 345.3C576.3 343 577 340.5 577.5 338.1C578 335.5 579 333.5 580.4 331.7C581.8 330.3 583.5 329.3 585.4 328.8L579 310.8L640.8 317.7L598.4 363.3L594.1 352.5C592 355 590 357.5 587.6 359.7C584.5 362.5 581 365 577.5 366.9C573 369.5 568 371.7 563.1 373.4C558.5 375 553.5 376.2 548.8 377C543 377.9 537 378.3 531.5 378.4Z"/>
<path d="M799.2 246.8C803 246.8 806.5 247 809.6 247.6C814 248.6 818 250 821.4 252C825.5 254.3 829 257 831.7 260.1C835.5 263.5 838.5 267 840.6 270.5C843 274 845 277.5 846.5 280.8C847.6 283.5 848.3 286.3 848.7 288.9L859.8 279.3L881.2 338.4L820.6 320L833.9 305.9C832.3 303.3 831 301 830.2 298.5C830 297 830.1 295.5 830.2 294.1C829.2 290.5 827.8 287 825.8 283.8C823.8 280 821.3 276.5 818.4 273.4C815.8 270.8 812.8 268.5 809.6 266.8C806 265 802 264 797.7 263.8Z"/>
</g>
<ellipse cx="723" cy="275" rx="60.8" ry="96.3" transform="rotate(28.4 723 275)" fill="none" stroke="#3f6f9f" stroke-width="2.9"/>
<g fill="#5b9bd5" stroke="#3f6f9f" stroke-width="1.8">
<circle cx="146.2" cy="200.0" r="9.8"/>
<circle cx="244.5" cy="170.0" r="9.8"/>
<circle cx="215.5" cy="265.5" r="9.8"/>
<circle cx="132.5" cy="327.0" r="9.8"/>
<circle cx="224.0" cy="380.0" r="9.8"/>
<circle cx="151.5" cy="467.0" r="9.8"/>
<circle cx="277.5" cy="467.0" r="9.8"/>
<circle cx="215.5" cy="532.0" r="9.8"/>
<circle cx="447.5" cy="114.5" r="9.8"/>
<circle cx="408.8" cy="127.5" r="9.8"/>
<circle cx="467.5" cy="139.2" r="9.8"/>
<circle cx="435.0" cy="159.5" r="9.8"/>
<circle cx="399.2" cy="179.2" r="9.8"/>
<circle cx="380.0" cy="253.0" r="9.8"/>
<circle cx="402.0" cy="255.0" r="9.8"/>
<circle cx="393.8" cy="282.5" r="9.8"/>
<circle cx="363.2" cy="304.5" r="9.8"/>
<circle cx="486.2" cy="345.0" r="9.8"/>
<circle cx="459.5" cy="385.5" r="9.8"/>
<circle cx="438.8" cy="404.2" r="9.8"/>
<circle cx="476.8" cy="406.8" r="9.8"/>
<circle cx="345.0" cy="393.0" r="9.8"/>
<circle cx="372.5" cy="425.0" r="9.8"/>
<ellipse cx="304.0" cy="157.2" rx="9.6" ry="11.1"/>
<ellipse cx="334.5" cy="156.4" rx="9.6" ry="11.1"/>
<ellipse cx="322.3" cy="180.0" rx="9.6" ry="11.1"/>
<circle cx="740.8" cy="195.5" r="9.5"/>
<circle cx="698.8" cy="218.2" r="9.5"/>
<circle cx="778.3" cy="238.4" r="9.5"/>
<circle cx="693.5" cy="259.0" r="9.5"/>
<circle cx="728.4" cy="265.0" r="9.5"/>
<circle cx="675.7" cy="292.5" r="9.5"/>
<circle cx="715.0" cy="305.5" r="9.5"/>
<circle cx="760.0" cy="307.8" r="9.5"/>
<circle cx="665.4" cy="329.0" r="9.5"/>
<circle cx="706.8" cy="350.7" r="9.5"/>
<circle cx="617.2" cy="195.0" r="9.5"/>
<circle cx="646.2" cy="227.4" r="9.5"/>
<circle cx="950.0" cy="344.2" r="13.3"/>
<circle cx="949.4" cy="403.9" r="13.3"/>
<circle cx="857.4" cy="414.5" r="13.3"/>
<circle cx="900.0" cy="426.5" r="13.3"/>
<circle cx="1015.5" cy="436.8" r="13.3"/>
<circle cx="1009.7" cy="510.3" r="13.3"/>
<circle cx="927.4" cy="528.0" r="13.3"/>
</g>
<g fill="#ffff00" stroke="#3f6f9f" stroke-width="4" stroke-linejoin="miter">
<polygon points="900.0,339.4 905.7,350.3 917.0,350.3 911.3,361.2 917.0,372.1 905.7,372.1 900.0,383.0 894.3,372.1 883.0,372.1 888.7,361.2 883.0,350.3 894.3,350.3"/>
<polygon points="999.6,351.2 1005.3,362.1 1016.6,362.1 1010.9,373.0 1016.6,383.9 1005.3,383.9 999.6,394.8 993.9,383.9 982.6,383.9 988.3,373.0 982.6,362.1 993.9,362.1"/>
<polygon points="964.6,431.0 970.3,441.9 981.6,441.9 975.9,452.8 981.6,463.7 970.3,463.7 964.6,474.6 958.9,463.7 947.6,463.7 953.3,452.8 947.6,441.9 958.9,441.9"/>
<polygon points="905.7,461.8 911.4,472.7 922.7,472.7 917.0,483.6 922.7,494.5 911.4,494.5 905.7,505.4 900.0,494.5 888.7,494.5 894.4,483.6 888.7,472.7 900.0,472.7"/>
</g>
<g fill="#dce6f2" stroke="#000" stroke-width="3">
<rect x="167.7" y="67.0" width="125.2" height="60.2"/>
<rect x="655.0" y="100.8" width="125.2" height="60.2"/>
<rect x="889.5" y="219.8" width="125.2" height="60.2"/>
</g>
<g font-size="33.8px" fill="#000">
<text x="181.3" y="108.8" textLength="95" lengthAdjust="spacingAndGlyphs">Step 1</text>
<text x="669" y="142.7" textLength="95" lengthAdjust="spacingAndGlyphs">Step 2</text>
<text x="903.8" y="260.9" textLength="95" lengthAdjust="spacingAndGlyphs">Step 3</text>
</g>
<g class="b" font-size="24.6px" text-anchor="end">
<text x="75.2" y="80.5" textLength="33.6" lengthAdjust="spacingAndGlyphs">2,1</text>
<text x="75.2" y="170.9" textLength="33.6" lengthAdjust="spacingAndGlyphs">1,9</text>
<text x="75.2" y="261.3" textLength="33.6" lengthAdjust="spacingAndGlyphs">1,7</text>
<text x="75.2" y="351.8" textLength="33.6" lengthAdjust="spacingAndGlyphs">1,5</text>
<text x="75.2" y="442.2" textLength="33.6" lengthAdjust="spacingAndGlyphs">1,3</text>
<text x="75.2" y="532.6" textLength="33.6" lengthAdjust="spacingAndGlyphs">1,1</text>
<text x="75.2" y="623.0" textLength="33.6" lengthAdjust="spacingAndGlyphs">0,9</text>
</g>
<g class="b" font-size="17.2px" text-anchor="middle">
<text x="101.3" y="648.1" textLength="52" lengthAdjust="spacingAndGlyphs">1,E-06</text>
<text x="203.8" y="648.1" textLength="52" lengthAdjust="spacingAndGlyphs">1,E-05</text>
<text x="306.4" y="648.1" textLength="52" lengthAdjust="spacingAndGlyphs">1,E-04</text>
<text x="408.9" y="648.1" textLength="52" lengthAdjust="spacingAndGlyphs">1,E-03</text>
<text x="511.5" y="648.1" textLength="52" lengthAdjust="spacingAndGlyphs">1,E-02</text>
<text x="614.0" y="648.1" textLength="52" lengthAdjust="spacingAndGlyphs">1,E-01</text>
<text x="716.6" y="648.1" textLength="55" lengthAdjust="spacingAndGlyphs">1,E+00</text>
<text x="819.1" y="648.1" textLength="55" lengthAdjust="spacingAndGlyphs">1,E+01</text>
</g>
<text class="b" font-size="25.5px" x="374.3" y="683.5" textLength="213.5" lengthAdjust="spacingAndGlyphs">correlation time (s)</text>
<text class="b" font-size="28px" transform="translate(34 548.5) rotate(-90)" textLength="324" lengthAdjust="spacingAndGlyphs">Autocorrelation Function</text>
<g stroke-width="7.5" stroke-linecap="round" fill="none">
<path stroke="#ff0000" d="M193.7 714.6H234.0"/>
<path stroke="#ffc000" d="M307.8 714.6H346.8"/>
<path stroke="#f223d6" d="M400.7 714.6H441.1"/>
<path stroke="#66ee66" d="M507.9 714.6H547.5"/>
<path stroke="#262626" d="M615.5 714.6H653.5"/>
</g>
<g class="b" font-size="21.4px">
<text x="239.0" y="721.7" textLength="48.4" lengthAdjust="spacingAndGlyphs">6.4%</text>
<text x="352.3" y="721.7" textLength="29.4" lengthAdjust="spacingAndGlyphs">8%</text>
<text x="447.0" y="721.7" textLength="40.5" lengthAdjust="spacingAndGlyphs">12%</text>
<text x="553.5" y="721.7" textLength="40.5" lengthAdjust="spacingAndGlyphs">16%</text>
<text x="659.5" y="721.7" textLength="61.5" lengthAdjust="spacingAndGlyphs">17.6%</text>
</g>
</svg></body></html>
